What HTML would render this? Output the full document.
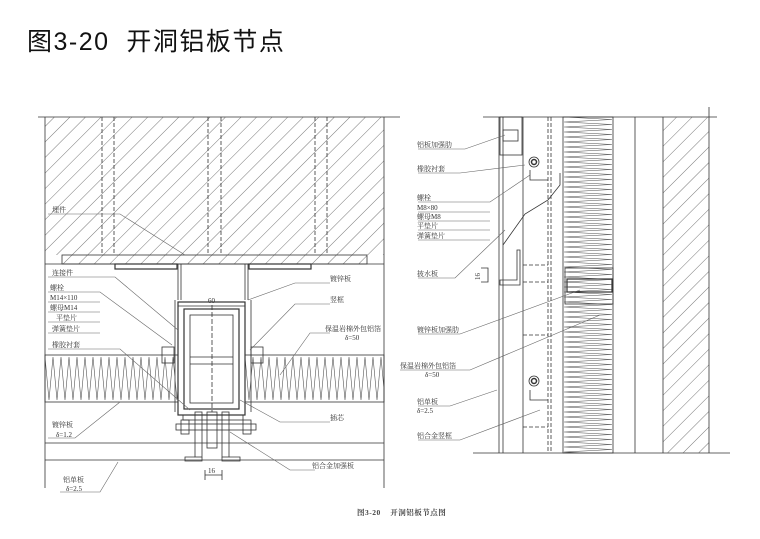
<!DOCTYPE html>
<html><head><meta charset="utf-8"><style>
html,body{margin:0;padding:0;background:#fff;width:760px;height:539px;overflow:hidden}
svg{display:block}
text{font-family:"Liberation Serif","Noto Serif CJK SC",serif;fill:#333}
.l{font-size:7px}
</style></head><body>
<svg width="760" height="539" viewBox="0 0 760 539" xmlns="http://www.w3.org/2000/svg">
<defs>
<pattern id="h" width="11" height="11" patternUnits="userSpaceOnUse" patternTransform="rotate(45)">
<line x1="0" y1="0" x2="0" y2="11" stroke="#555" stroke-width="0.8"/></pattern>
<pattern id="z" width="8" height="47" patternUnits="userSpaceOnUse" x="45" y="355">
<polyline points="0,2 4,45 8,2" fill="none" stroke="#555" stroke-width="0.6"/></pattern>
<pattern id="zv" width="50" height="5" patternUnits="userSpaceOnUse" x="563" y="117">
<polyline points="1,0 49,2.5 1,5" fill="none" stroke="#555" stroke-width="0.6"/></pattern>
</defs>
<text x="27" y="50" style="font-family:'Liberation Sans','Noto Sans CJK SC',sans-serif;font-size:25px;fill:#111;letter-spacing:1.5px" xml:space="preserve">图3-20  开洞铝板节点</text>

<!-- LEFT DRAWING -->
<g stroke="#333" fill="none" stroke-width="0.8">
<line x1="38" y1="117" x2="400" y2="117"/>
<rect x="45" y="117" width="339" height="138" fill="url(#h)" stroke="none"/>
<line x1="45" y1="117" x2="45" y2="488"/>
<line x1="384" y1="117" x2="384" y2="488"/>
<g stroke-dasharray="4,2">
<line x1="102" y1="117" x2="102" y2="255"/><line x1="114" y1="117" x2="114" y2="255"/>
<line x1="208" y1="117" x2="208" y2="255"/><line x1="221" y1="117" x2="221" y2="255"/>
<line x1="315" y1="117" x2="315" y2="255"/><line x1="327" y1="117" x2="327" y2="255"/>
</g>
<rect x="62" y="255" width="305" height="9" fill="url(#h)"/>
<line x1="45" y1="264" x2="384" y2="264"/>
<rect x="115" y="264" width="62" height="5" stroke-width="1.2"/>
<rect x="249" y="264" width="62" height="5" stroke-width="1.2"/>
<path d="M178 264V300M181 264V300M245 264V300M248 264V300"/>
<path d="M175 300V412M251 300V412"/>
<rect x="45" y="355" width="339" height="47" fill="url(#z)"/>
<rect x="178" y="302" width="67" height="113" fill="#fff" stroke-width="1.2"/>
<rect x="184" y="309" width="55" height="100" stroke-width="1.2"/>
<rect x="190" y="315" width="43" height="88"/>
<line x1="212" y1="305" x2="212" y2="412" stroke-dasharray="5,2"/>
<line x1="190" y1="357" x2="233" y2="357"/><line x1="190" y1="364" x2="233" y2="364"/>
<rect x="162" y="347" width="12" height="16"/><rect x="251" y="347" width="12" height="16"/>
<rect x="183" y="415" width="60" height="5"/>
<rect x="195" y="412" width="7" height="45"/><rect x="222" y="412" width="7" height="45"/>
<rect x="207" y="412" width="10" height="36"/>
<path d="M195 457H185V461H202V457M229 457H240V461H222V457"/>
<rect x="176" y="424" width="80" height="6"/>
<rect x="181" y="420" width="8" height="14"/><rect x="243" y="420" width="8" height="14"/>
<line x1="45" y1="443" x2="384" y2="443"/><line x1="45" y1="460" x2="384" y2="460"/>
<path d="M205 475H222M205 470V480M222 470V480"/>
<path d="M178 306H245"/>
</g>
<g stroke="#666" stroke-width="0.6" fill="none">
<path d="M48 214H120L185 255"/>
<path d="M48 277H115L178 330"/>
<path d="M48 292H100L172 345M48 302H100M48 312H100M48 322H100M48 333H100"/>
<path d="M48 349H120L190 410"/>
<path d="M48 438H75L120 402"/>
<path d="M60 492H100L118 462"/>
<path d="M330 283H295L248 300"/>
<path d="M330 304H295L250 350"/>
<path d="M330 333H310L280 375"/>
<path d="M330 422H280L240 400"/>
<path d="M315 470H290L230 432"/>
</g>
<g>
<text x="52" y="212" class="l">埋件</text>
<text x="52" y="275" class="l">连接件</text>
<text x="50" y="290" class="l">螺栓</text>
<text x="50" y="300" class="l">M14×110</text>
<text x="50" y="310" class="l">螺母M14</text>
<text x="56" y="320" class="l">平垫片</text>
<text x="52" y="331" class="l">弹簧垫片</text>
<text x="52" y="347" class="l">橡胶衬套</text>
<text x="52" y="427" class="l">镀锌板</text>
<text x="56" y="437" class="l">δ=1.2</text>
<text x="63" y="482" class="l">铝单板</text>
<text x="66" y="491" class="l">δ=2.5</text>
<text x="208" y="303" class="l">60</text>
<text x="208" y="473" class="l">16</text>
<text x="330" y="281" class="l">镀锌板</text>
<text x="330" y="302" class="l">竖框</text>
<text x="325" y="331" class="l">保温岩棉外包铝箔</text>
<text x="345" y="340" class="l">δ=50</text>
<text x="330" y="420" class="l">插芯</text>
<text x="312" y="468" class="l">铝合金加强板</text>
</g>

<!-- RIGHT DRAWING -->
<g stroke="#333" fill="none" stroke-width="0.8">
<line x1="483" y1="117" x2="717" y2="117"/>
<line x1="473" y1="453" x2="730" y2="453"/>
<rect x="663" y="117" width="46" height="336" fill="url(#h)" stroke="none"/>
<line x1="499" y1="117" x2="499" y2="453"/>
<line x1="503" y1="117" x2="503" y2="453"/>
<line x1="523" y1="117" x2="523" y2="453"/>
<line x1="548" y1="117" x2="548" y2="453" stroke-dasharray="4,2"/>
<line x1="551" y1="117" x2="551" y2="453" stroke-dasharray="4,2"/>
<rect x="563" y="117" width="50" height="336" fill="url(#zv)"/>
<line x1="635" y1="117" x2="635" y2="453"/>
<line x1="663" y1="117" x2="663" y2="453"/>
<line x1="709" y1="107" x2="709" y2="453"/>
<rect x="500" y="117" width="22" height="38"/>
<rect x="503" y="130" width="15" height="11"/>
<circle cx="534" cy="162" r="5"/><circle cx="534" cy="162" r="2.5" stroke-width="1.5"/>
<circle cx="534" cy="381" r="5"/><circle cx="534" cy="381" r="2.5" stroke-width="1.5"/>
<path d="M530 170V180H548M530 390V400H548"/>
<path d="M560 173V185L548 200L525 214L503 245"/>
<path d="M517 250V280H500V285H520V250Z"/>
<rect x="565" y="268" width="48" height="36"/>
<rect x="567" y="279" width="45" height="13" stroke-width="1.2"/>
<path d="M523 265H548M523 282H548M523 335H548M523 427H548" stroke-dasharray="4,2"/>
<path d="M481 268H488V282H481"/>
</g>
<g stroke="#666" stroke-width="0.6" fill="none">
<path d="M418 149H465L505 135"/>
<path d="M418 173H460L525 165"/>
<path d="M418 202H490L530 175M418 212H490M418 221H490M418 230H490M418 240H490"/>
<path d="M418 278H455L505 230"/>
<path d="M418 334H460L580 290"/>
<path d="M400 370H470L600 315"/>
<path d="M418 406H450L497 390"/>
<path d="M418 440H460L540 410"/>
</g>
<g>
<text x="417" y="147" class="l">铝板加强肋</text>
<text x="417" y="171" class="l">橡胶衬套</text>
<text x="417" y="200" class="l">螺栓</text>
<text x="417" y="210" class="l">M8×80</text>
<text x="417" y="219" class="l">螺母M8</text>
<text x="417" y="228" class="l">平垫片</text>
<text x="417" y="238" class="l">弹簧垫片</text>
<text x="417" y="276" class="l">披水板</text>
<text x="480" y="280" class="l" transform="rotate(-90 480 280)">16</text>
<text x="417" y="332" class="l">镀锌板加强肋</text>
<text x="400" y="368" class="l">保温岩棉外包铝箔</text>
<text x="425" y="377" class="l">δ=50</text>
<text x="417" y="404" class="l">铝单板</text>
<text x="417" y="413" class="l">δ=2.5</text>
<text x="417" y="438" class="l">铝合金竖框</text>
</g>
<text x="357" y="515" style="font-size:7.5px;font-weight:bold;fill:#444;letter-spacing:0.5px" xml:space="preserve">图3-20    开洞铝板节点图</text>
</svg>
</body></html>
